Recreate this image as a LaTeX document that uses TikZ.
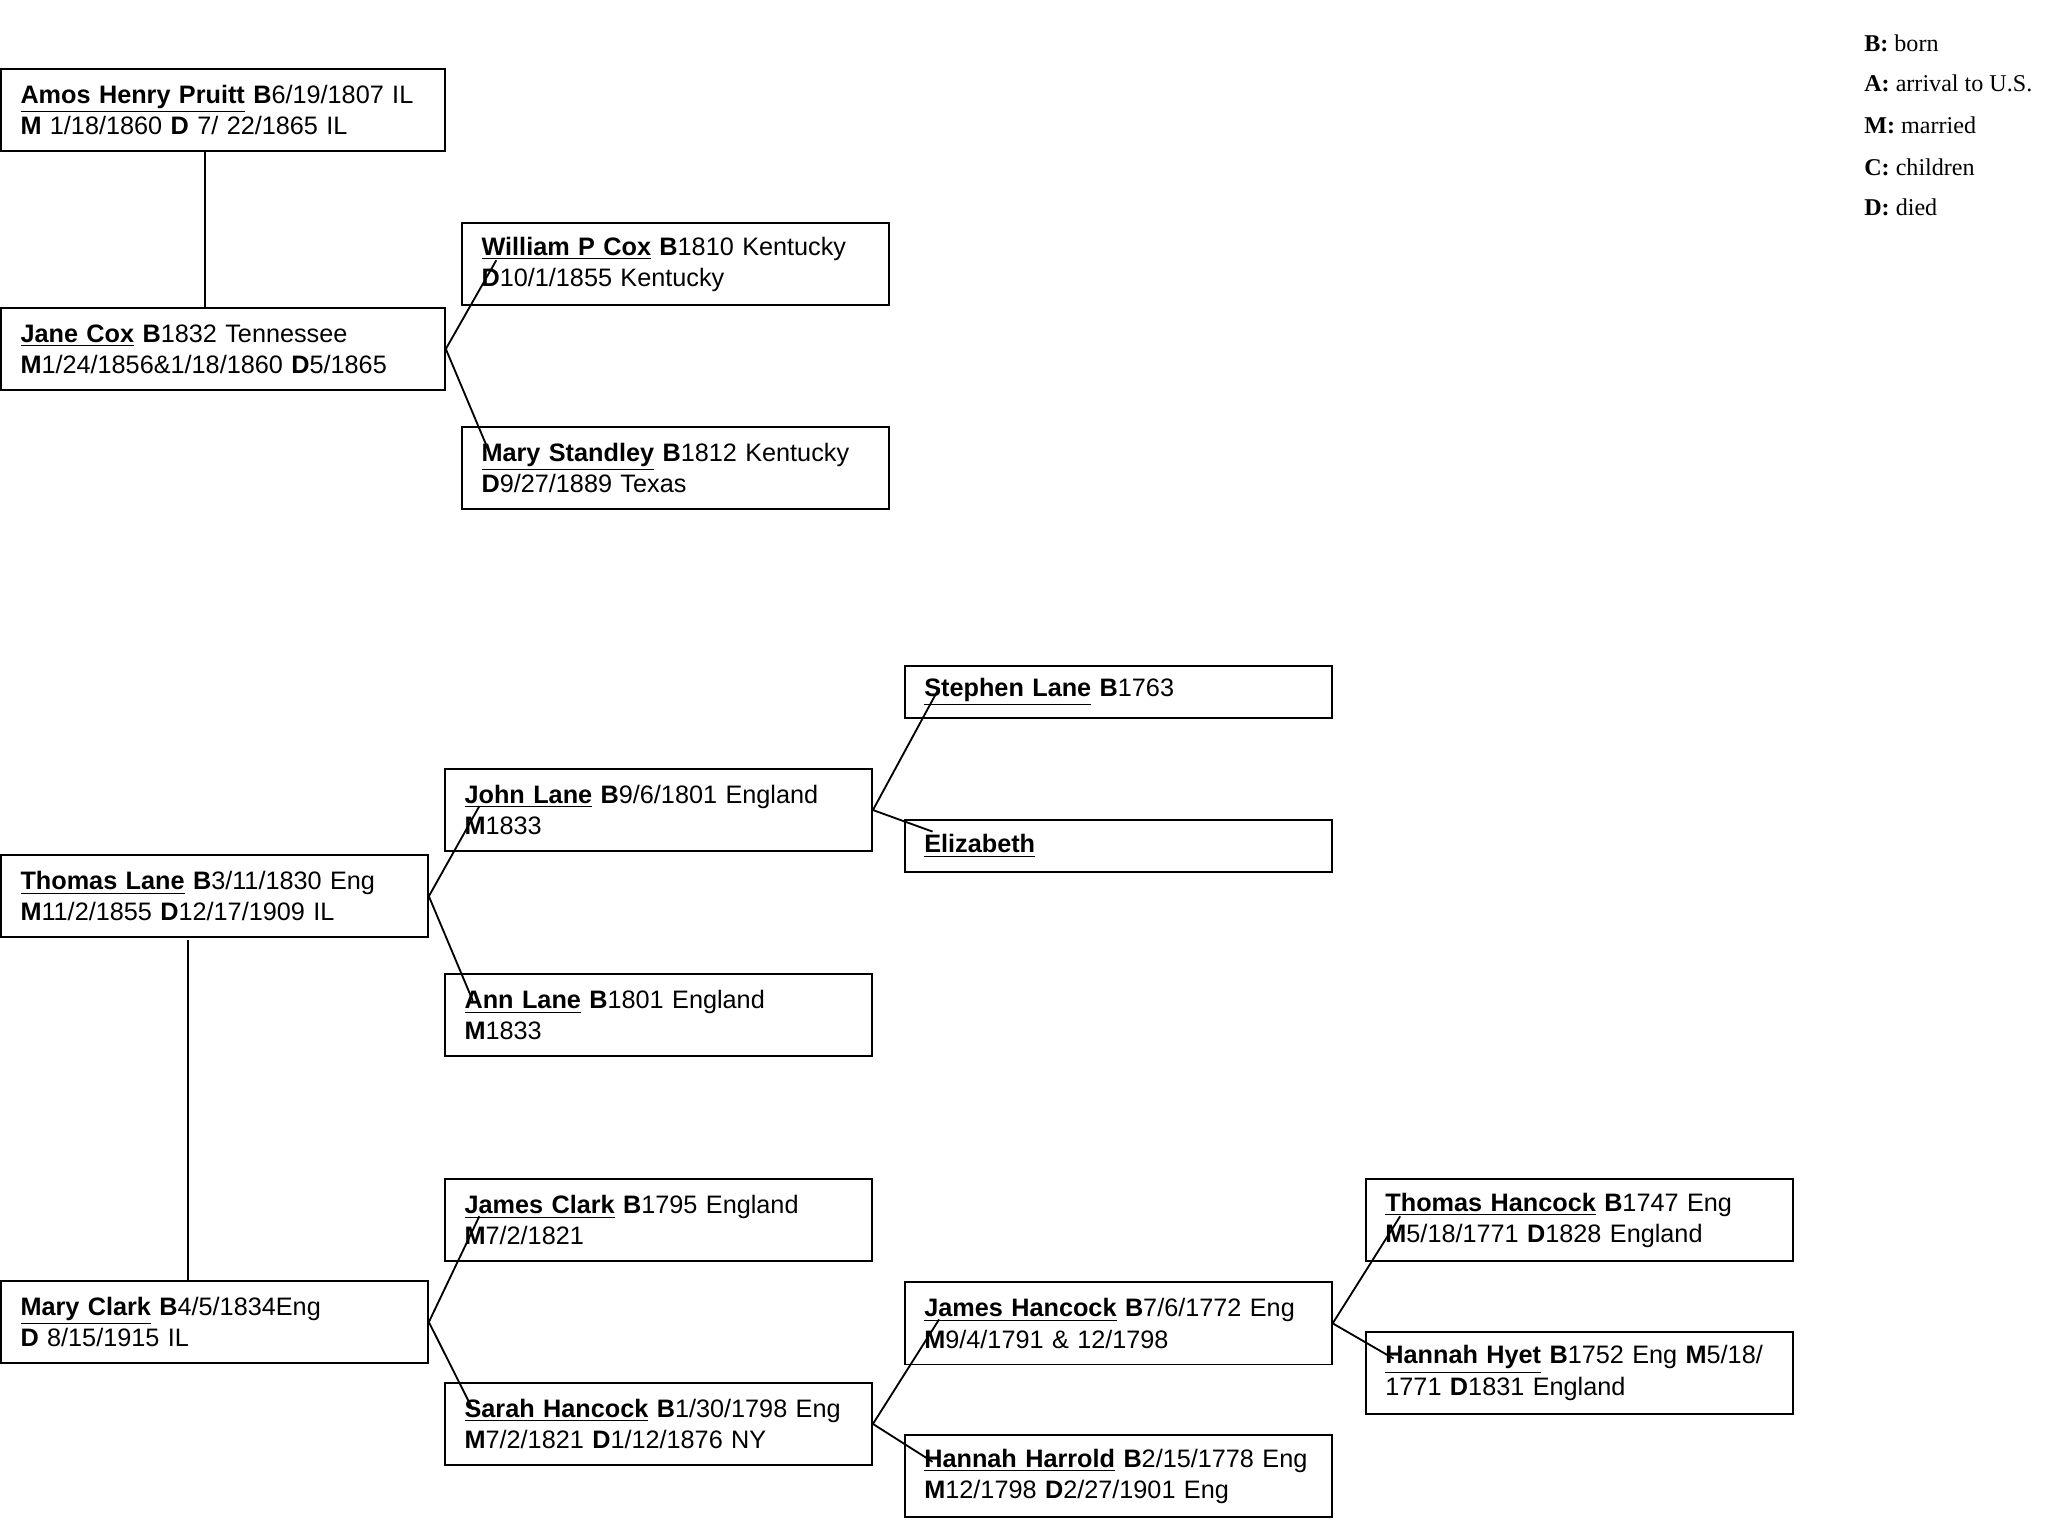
\documentclass[tikz,border=0pt]{standalone}
\usepackage{fontspec}
\setmainfont{Liberation Sans}
\newfontfamily\legendfont{Liberation Serif}
\usetikzlibrary{calc}
\newcommand{\nm}[1]{\textbf{\underline{#1}}}
\tikzset{
  person/.style={draw, line width=0.8pt, anchor=north west, align=left, inner xsep=0.3cm,
    font=\fontsize{11}{13.6}\selectfont},
  wide/.style={person, minimum width=6.8cm, text width=6.2cm, minimum height=1.26cm},
  narrow/.style={person, minimum width=6.54cm, text width=5.94cm, minimum height=1.26cm},
  short/.style={narrow, minimum height=0.8cm},
  link/.style={line width=0.8pt},
  key/.style={anchor=west, font=\legendfont\fontsize{10.5}{12}\selectfont, inner sep=0pt}
}
\begin{document}
\begin{tikzpicture}[x=0.02cm,y=-0.02cm]
\useasboundingbox (0,0) rectangle (1568,1176);
% generation 1
\node[wide] (amos) at (0,52) {\nm{Amos Henry Pruitt} \textbf{B}6/19/1807 IL\\\textbf{M} 1/18/1860 \textbf{D} 7/ 22/1865 IL};
\node[wide] (jane) at (0,235) {\nm{Jane Cox} \textbf{B}1832 Tennessee\\\textbf{M}1/24/1856\&1/18/1860 \textbf{D}5/1865};
\node[narrow] (william) at (353,170) {\nm{William P Cox} \textbf{B}1810 Kentucky\\\textbf{D}10/1/1855 Kentucky};
\node[narrow] (standley) at (353,326) {\nm{Mary Standley} \textbf{B}1812 Kentucky\\\textbf{D}9/27/1889 Texas};
% Lane side
\node[narrow] (thomas) at (0,654) {\nm{Thomas Lane} \textbf{B}3/11/1830 Eng\\\textbf{M}11/2/1855 \textbf{D}12/17/1909 IL};
\node[narrow] (john) at (340,588) {\nm{John Lane} \textbf{B}9/6/1801 England\\\textbf{M}1833};
\node[narrow] (ann) at (340,745) {\nm{Ann Lane} \textbf{B}1801 England\\\textbf{M}1833};
\node[short] (stephen) at (692,509) {\nm{Stephen Lane} \textbf{B}1763};
\node[short] (elizabeth) at (692,627) {\nm{Elizabeth}};
% Clark side
\node[narrow] (maryc) at (0,980) {\nm{Mary Clark} \textbf{B}4/5/1834Eng\\\textbf{D} 8/15/1915 IL};
\node[narrow] (jamesc) at (340,902) {\nm{James Clark} \textbf{B}1795 England\\\textbf{M}7/2/1821};
\node[narrow] (sarah) at (340,1058) {\nm{Sarah Hancock} \textbf{B}1/30/1798 Eng\\\textbf{M}7/2/1821 \textbf{D}1/12/1876 NY};
\node[narrow] (jamesh) at (692,981) {\nm{James Hancock} \textbf{B}7/6/1772 Eng\\\textbf{M}9/4/1791 \& 12/1798};
\node[narrow] (harrold) at (692,1098) {\nm{Hannah Harrold} \textbf{B}2/15/1778 Eng\\\textbf{M}12/1798 \textbf{D}2/27/1901 Eng};
\node[narrow] (thomash) at (1045,902) {\nm{Thomas Hancock} \textbf{B}1747 Eng\\\textbf{M}5/18/1771 \textbf{D}1828 England};
\node[narrow] (hyet) at (1045,1019) {\nm{Hannah Hyet} \textbf{B}1752 Eng \textbf{M}5/18/\\1771 \textbf{D}1831 England};
% couples
\draw[link] (amos.south -| 157,0) -- (jane.north -| 157,0);
\draw[link] (144,720) -- (maryc.north -| 144,0);
% parents
\foreach \kid/\up/\down in {jane/william/standley, thomas/john/ann, maryc/jamesc/sarah,
  john/stephen/elizabeth, sarah/jamesh/harrold, jamesh/thomash/hyet}{
  \draw[link] ($(\up.west)+(27,-3)$) -- (\kid.east) -- ($(\down.west)+(22,-11)$);
}
% legend
\node[key] (kb) at (1427,33) {\textbf{B:} born};
\node[key] (ka) at (1427,64) {\textbf{A:} arrival to U.S.};
\node[key] (km) at (1427,96) {\textbf{M:} married};
\node[key] (kc) at (1427,128) {\textbf{C:} children};
\node[key] (kd) at (1427,159) {\textbf{D:} died};
\end{tikzpicture}
\end{document}
